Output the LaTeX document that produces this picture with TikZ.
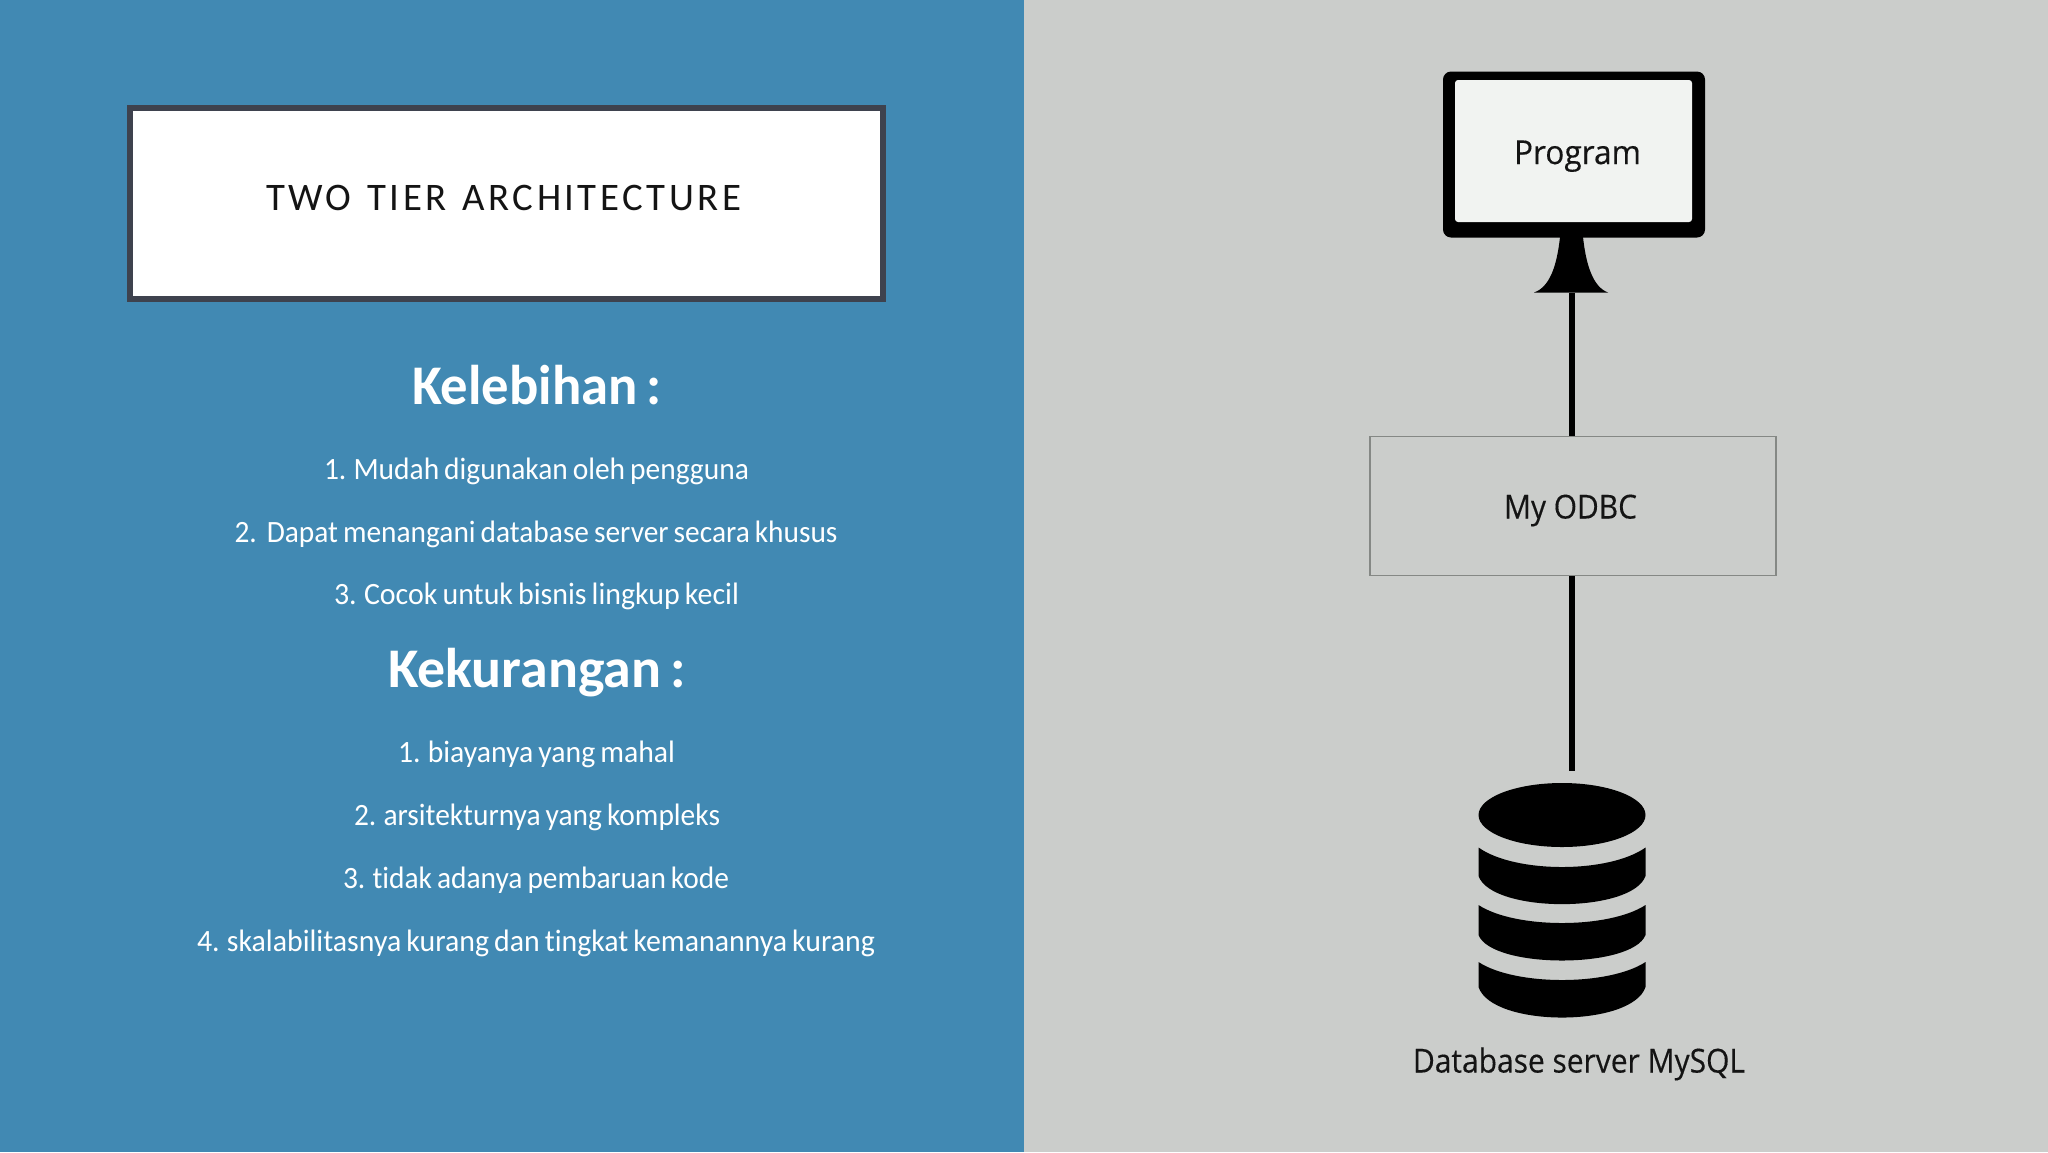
\documentclass[tikz,border=0pt]{standalone}
\usepackage{fontspec}
\usepackage{graphicx}
\setmainfont{Carlito}[Ligatures=NoCommon,WordSpace=0.75]
\newfontfamily\titlefont{Carlito}[Ligatures=NoCommon,LetterSpace=9,WordSpace=1.3]
\newfontfamily\diagfont{Open Sans}[FakeBold=0.3]
\definecolor{leftblue}{RGB}{65,137,179}
\definecolor{rightgray}{RGB}{203,205,203}
\definecolor{framedark}{RGB}{62,66,78}
\definecolor{screenfill}{RGB}{241,243,241}
\definecolor{boxline}{RGB}{133,136,133}
\definecolor{inktext}{RGB}{20,20,20}
\newsavebox{\fitbox}
\newcommand{\fitw}[2]{\sbox{\fitbox}{#2}\pgfmathsetmacro{\fitr}{#1*0.5/(\wd\fitbox/1pt)}\scalebox{\fitr}[1]{\usebox{\fitbox}}}
\tikzset{
  x=0.5pt,y=-0.5pt,
  txt/.style={anchor=base,inner sep=0pt,outer sep=0pt},
  item/.style={txt,text=white,font=\fontsize{15.5}{17}\selectfont},
  head/.style={txt,text=white,font=\bfseries\fontsize{28}{30}\selectfont},
  diag/.style={txt,text=inktext,font=\diagfont\fontsize{16.5}{19}\selectfont},
  wire/.style={draw=black,line width=3pt},
}
\begin{document}
\begin{tikzpicture}
\useasboundingbox (0,0) rectangle (2048,1152);
\fill[leftblue] (0,0) rectangle (1024,1152);
\fill[rightgray] (1024,0) rectangle (2048,1152);
% title
\node[draw=framedark,fill=white,line width=3pt,minimum width=376.5pt,minimum height=95.5pt,inner sep=0pt] (titlebox) at (506.5,203.5) {};
\node[txt,text=inktext,font=\titlefont\fontsize{19.5}{21}\selectfont] (title) at (503.5,210) {\fitw{475}{TWO TIER ARCHITECTURE}};
% left text
\node[head] (kel) at (537,404) {\fitw{250}{Kelebihan :}};
\node[item] (k1) at (536.5,479) {\fitw{425}{1. Mudah digunakan oleh pengguna}};
\node[item] (k2) at (536,542) {\fitw{603}{2.\ \ Dapat menangani database server secara khusus}};
\node[item] (k3) at (536.5,604) {\fitw{405}{3. Cocok untuk bisnis lingkup kecil}};
\node[head] (kur) at (537,687.5) {\fitw{298}{Kekurangan :}};
\node[item] (m1) at (536.5,762.5) {\fitw{277}{1. biayanya yang mahal}};
\node[item] (m2) at (537,825) {\fitw{366}{2. arsitekturnya yang kompleks}};
\node[item] (m3) at (536,888) {\fitw{386}{3. tidak adanya pembaruan kode}};
\node[item] (m4) at (536,951) {\fitw{678}{4. skalabilitasnya kurang dan tingkat kemanannya kurang}};
% program monitor
\fill[black,rounded corners=4pt] (1443,71.5) rectangle (1705,237.5);
\node[fill=screenfill,rounded corners=1.5pt,minimum width=118.5pt,minimum height=71pt,inner sep=0pt] (program) at (1573.5,151) {};
\node[diag] (programtext) at (1577.5,164) {\fitw{127}{Program}};
\coordinate (standbase) at (1571.5,292.5);
\fill[black] (1560,237) .. controls (1557,265) and (1550,287) .. (1534,292.5) -- (1608,292.5) .. controls (1593,287) and (1586,265) .. (1583,237) -- cycle;
% odbc
\node[draw=boxline,line width=0.9pt,minimum width=203pt,minimum height=69.5pt,inner sep=0pt] (odbc) at (1573,506) {};
\node[diag] (odbctext) at (1570.5,518.5) {\fitw{133}{My ODBC}};
\coordinate (dbtop) at (1571.5,771);
\draw[wire] (standbase |- odbc.north) -- (standbase);
\draw[wire] (standbase |- odbc.south) -- (standbase |- dbtop);
% database
\fill[black] (1562,815) ellipse [x radius=83.5,y radius=32];
\foreach \ct/\ca/\sb/\cb in {847.5/873.5/876/913.5, 905/929/935/969, 962/986/987/1027.7}{
  \fill[black] (1478.5,\ct) .. controls (1515,\ca) and (1609,\ca) .. (1645.5,\ct)
    -- (1645.5,\sb) .. controls (1632,\cb) and (1492,\cb) .. (1478.5,\sb) -- cycle;
}
\node[diag] (dbtext) at (1579,1072.5) {\fitw{332}{Database server MySQL}};
\end{tikzpicture}
\end{document}
